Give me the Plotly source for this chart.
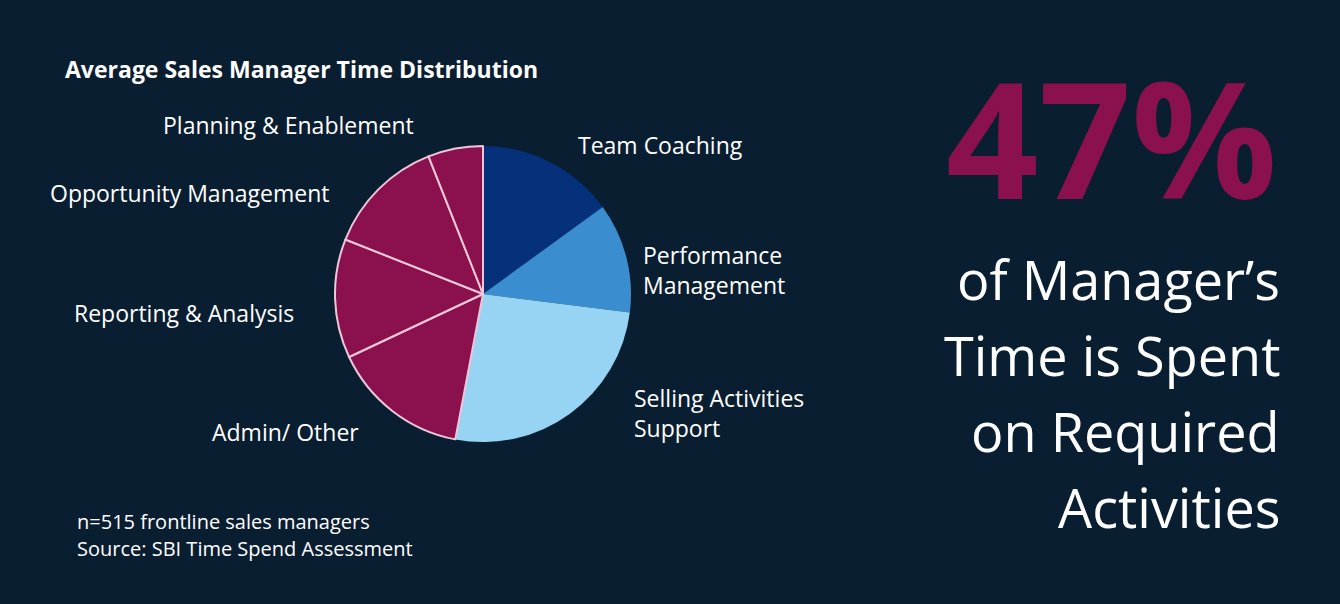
import plotly.graph_objects as go

W, H = 1340, 604

# ---- data ----
categories = ["Team Coaching", "Performance Management", "Selling Activities Support",
              "Admin/ Other", "Reporting & Analysis", "Opportunity Management",
              "Planning & Enablement"]
shares = [15, 12, 26, 15, 13, 13, 6]
slice_colors = ["#05307a", "#3a8ed0", "#97d3f3", "#8b104e", "#8b104e", "#8b104e", "#8b104e"]
edge_colors = ["#05307a", "#3a8ed0", "#97d3f3", "#ecc6d9", "#ecc6d9", "#ecc6d9", "#ecc6d9"]
edge_widths = [0, 0, 0, 2, 2, 2, 2]

label_texts = ["Team Coaching", "Performance<br>Management", "Selling Activities<br>Support",
               "Admin/ Other", "Reporting & Analysis", "Opportunity Management",
               "Planning & Enablement"]
# pixel anchors for labels (x, y, xanchor)
label_pos = [(576, 145, "left"), (641, 270, "left"), (632, 413, "left"),
             (361, 432, "right"), (296, 313, "right"), (331, 193, "right"),
             (416, 125, "right")]

headline = "47%"
statement_lines = ["of Manager’s", "Time is Spent", "on Required", "Activities"]
footnote_lines = ["n=515 frontline sales managers", "Source: SBI Time Spend Assessment"]
title = "Average Sales Manager Time Distribution"

BG = "#0a1e31"
FONT = "Open Sans"


def px(x):
    return x / W


def py(y):
    return 1 - y / H


cx, cy, r = 483, 294, 148

fig = go.Figure()
fig.add_trace(go.Pie(
    labels=categories,
    values=shares,
    sort=False,
    direction="clockwise",
    rotation=0,
    marker=dict(colors=slice_colors, line=dict(color=edge_colors, width=edge_widths)),
    textinfo="none",
    hoverinfo="label+percent",
    showlegend=False,
    domain=dict(x=[px(cx - r), px(cx + r)], y=[py(cy + r), py(cy - r)]),
))

annotations = []


def add_text(txt, x, y, xa, size, color="#ffffff", align="left"):
    annotations.append(dict(
        text=txt, x=px(x), y=py(y), xref="paper", yref="paper",
        xanchor=xa, yanchor="middle", align=align, showarrow=False,
        font=dict(family=FONT, size=size, color=color),
    ))


for txt, (x, y, xa) in zip(label_texts, label_pos):
    add_text(txt, x, y, xa, 23)

add_text("<b>" + title + "</b>", 63, 69, "left", 23)
for i, line in enumerate(footnote_lines):
    add_text(line, 75, 521 + 27 * i, "left", 20)
add_text("<b>" + headline + "</b>", 1279, 136, "right", 162, color="#8b104e")
for i, line in enumerate(statement_lines):
    add_text(line, 1282, 279 + 76 * i, "right", 54, align="right")

fig.update_layout(
    width=W, height=H,
    margin=dict(l=0, r=0, t=0, b=0),
    paper_bgcolor=BG, plot_bgcolor=BG,
    annotations=annotations,
)

fig.write_html("out.html")
